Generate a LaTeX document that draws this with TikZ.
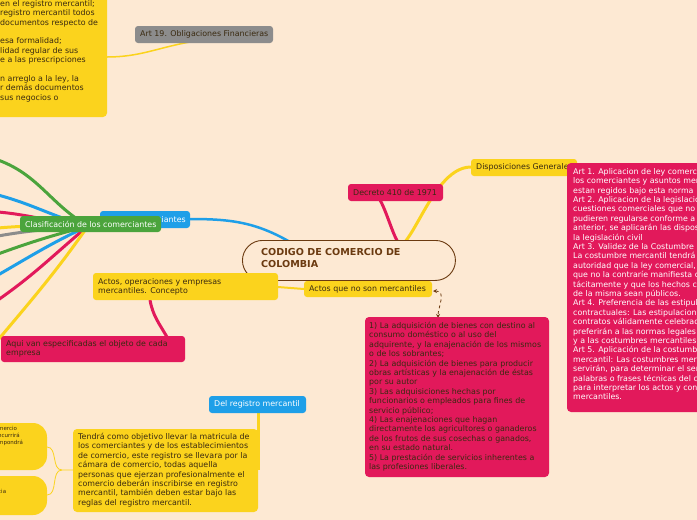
\documentclass[tikz,border=0pt]{standalone}
\usepackage{fontspec}
\setmainfont{DejaVu Sans}
\begin{document}
\begin{tikzpicture}[x=1pt,y=-1pt,
  txt/.style={font=\fontsize{7.9}{9.4}\selectfont,align=left,anchor=north west,inner sep=0pt},
  fan/.style={line width=3pt}]
\definecolor{bg}{HTML}{FDE9D3}
\definecolor{ye}{HTML}{FBD31D}
\definecolor{pk}{HTML}{E2195B}
\definecolor{bl}{HTML}{1E9FE8}
\definecolor{gr}{HTML}{4BA43C}
\definecolor{gy}{HTML}{8C8C8C}
\definecolor{br}{HTML}{6B3A10}
\definecolor{tx}{HTML}{3A2A10}
\fill[bg] (0,0) rectangle (697,520);
\useasboundingbox (0,0) rectangle (697,520);
\clip (0,0) rectangle (697,520);
% fan
\coordinate (hub) at (88,226);
\draw[fan,gr] (hub) to[out=150,in=-20] (-2,160);
\draw[fan,bl] (hub) to[out=165,in=-15] (-2,195);
\draw[fan,pk] (hub) to[out=175,in=-5] (-2,212);
\draw[fan,ye] (hub) to[out=180,in=5] (-2,228);
\draw[fan,gy] (hub) to[out=185,in=10] (-2,236);
\draw[fan,gr] (hub) to[out=195,in=20] (-2,254);
\draw[fan,bl] (hub) to[out=205,in=30] (-2,275);
\draw[fan,pk] (hub) to[out=220,in=35] (-2,300);
\draw[fan,ye] (hub) to[out=235,in=50] (-2,340);
% connectors
\draw[ye,line width=1.5pt] (107,57) to[out=0,in=190] (190,42);
\draw[ye,line width=3pt] (385,241) to[out=-60,in=180] (471,167);
\draw[pk,line width=3pt] (405,241) to[out=-110,in=-60] (380,200);
\draw[bl,line width=2.5pt] (290,242) to[out=150,in=0] (190,219);
\draw[ye,line width=2pt] (304,289) -- (278,287);
\draw[pk,line width=3pt] (150,300) to[out=-80,in=120] (167,337);
\draw[ye,line width=3pt] (258,410) -- (258,470);
\draw[ye,line width=0.8pt] (73,470) -- (62,470) to[out=180,in=0] (47,447);
\draw[ye,line width=0.8pt] (62,470) to[out=180,in=0] (47,495);
\draw[br,dashed,line width=0.8pt,<->,>=stealth] (433,291) -- (436,291) to[out=0,in=90] (438,318);
% top-left box
\fill[ye,rounded corners=4pt] (-20,-10) rectangle (107,117);
\node[txt,text=tx] at (0,0) {en el registro mercantil;\\ registro mercantil todos\\documentos respecto de\\[9.4pt] esa formalidad;\\lidad regular de sus\\e a las prescripciones\\[9.4pt]n arreglo a la ley, la\\r demás documentos\\ sus negocios o};
% Art 19
\fill[gy,rounded corners=3pt] (135,26) rectangle (273,43);
\node[txt,text=tx,anchor=west] at (140,34.5) {Art 19. Obligaciones Financieras};
% center
\node[draw=br,line width=0.9pt,fill=bg,rounded corners=20pt,minimum width=213pt,minimum height=40pt,anchor=north west] at (242,240) {};
\node[txt,text=br,font=\bfseries\fontsize{9.6}{12}\selectfont] at (261,248) {CODIGO DE COMERCIO DE\\COLOMBIA};
% Disposiciones
\fill[ye,rounded corners=3pt] (471,159) rectangle (577,176);
\node[txt,text=tx,anchor=west] at (476,167.5) {Disposiciones Generales};
% Decreto
\fill[pk,rounded corners=3pt] (348,184) rectangle (443,201);
\node[txt,text=tx,anchor=west] at (353,192.5) {Decreto 410 de 1971};
% right pink
\fill[pk,rounded corners=4pt] (567,163) rectangle (720,412);
\node[txt,text=white] at (573,168) {Art 1. Aplicacion de ley comercial\\los comerciantes y asuntos mercantiles\\estan regidos bajo esta norma\\Art 2. Aplicacion de la legislacion\\cuestiones comerciales que no\\pudieren regularse conforme a la regla\\anterior, se aplicarán las disposiciones de\\la legislación civil\\Art 3. Validez de la Costumbre mercantil\\La costumbre mercantil tendrá la misma\\autoridad que la ley comercial, siempre\\que no la contraríe manifiesta o\\tácitamente y que los hechos constitutivos\\de la misma sean públicos.\\Art 4. Preferencia de las estipulaciones\\contractuales: Las estipulaciones de los\\contratos válidamente celebrados\\preferirán a las normas legales supletivas\\y a las costumbres mercantiles.\\Art 5. Aplicación de la costumbre\\mercantil: Las costumbres mercantiles\\servirán, para determinar el sentido de las\\palabras o frases técnicas del comercio y\\para interpretar los actos y convenios\\mercantiles.};
% Actos que no son
\fill[ye,rounded corners=3pt] (304,281) rectangle (432,297);
\node[txt,text=tx,anchor=west] at (309,289) {Actos que no son mercantiles};
% pink list
\fill[pk,rounded corners=4pt] (365,317) rectangle (549,477);
\node[txt,text=tx] at (369,322) {1) La adquisición de bienes con destino al\\consumo doméstico o al uso del\\adquirente, y la enajenación de los mismos\\o de los sobrantes;\\2) La adquisición de bienes para producir\\obras artísticas y la enajenación de éstas\\por su autor\\3) Las adquisiciones hechas por\\funcionarios o empleados para fines de\\servicio público;\\4) Las enajenaciones que hagan\\directamente los agricultores o ganaderos\\de los frutos de sus cosechas o ganados,\\en su estado natural.\\5) La prestación de servicios inherentes a\\las profesiones liberales.};
% Actos operaciones
\fill[ye,rounded corners=3pt] (93,273) rectangle (278,300);
\node[txt,text=tx] at (98,278) {Actos, operaciones y empresas\\mercantiles. Concepto};
% Aqui van
\fill[pk,rounded corners=3pt] (1,336) rectangle (185,362);
\node[txt,text=tx] at (6,340) {Aqui van especificadas el objeto de cada\\empresa};
% blue comerciantes + green
\fill[bl,rounded corners=3pt] (100,211) rectangle (190,228);
\node[txt,text=white,anchor=east] at (186,219.5) {De los comerciantes};
\fill[gr,rounded corners=3pt] (20,216) rectangle (161,232);
\node[txt,text=white,anchor=west] at (25,224) {Clasificación de los comerciantes};
% Del registro
\fill[bl,rounded corners=3pt] (209,396) rectangle (306,413);
\node[txt,text=white,anchor=west] at (214,404.5) {Del registro mercantil};
% yellow register box
\fill[ye,rounded corners=4pt] (73,429) rectangle (258,512);
\node[txt,text=tx] at (78,433) {Tendrá como objetivo llevar la matricula de\\los comerciantes y de los establecimientos\\de comercio, este registro se llevara por la\\cámara de comercio, todas aquella\\personas que ejerzan profesionalmente el\\comercio deberán inscribirse en registro\\mercantil, también deben estar bajo las\\reglas del registro mercantil.};
% left pills
\fill[ye,rounded corners=14pt] (-60,423) rectangle (47,470);
\node[txt,text=tx,font=\fontsize{5.5}{7}\selectfont] at (-2,426) {mercio\\ncurrirá\\mpondrá};
\fill[ye,rounded corners=14pt] (-60,476) rectangle (47,515);
\node[txt,text=tx,font=\fontsize{5.5}{7}\selectfont] at (-2,489) {cia};
\end{tikzpicture}
\end{document}
